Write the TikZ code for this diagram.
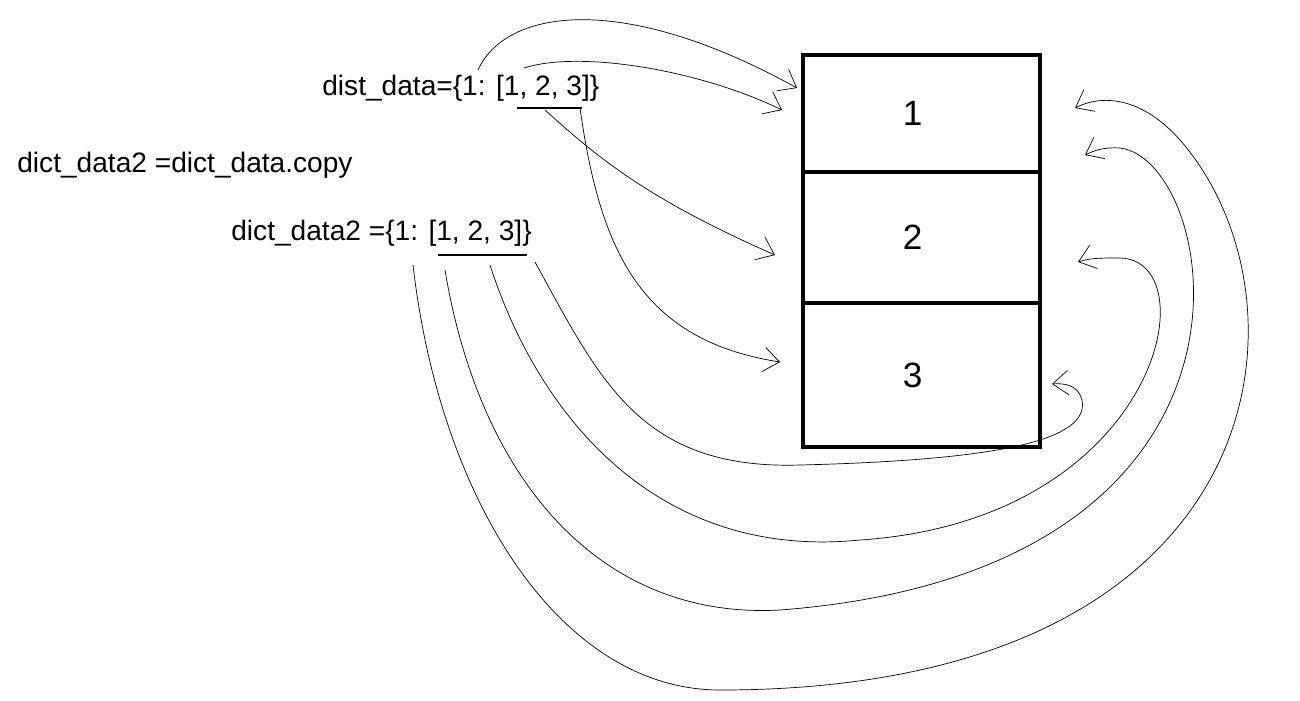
\documentclass[tikz,border=0pt]{standalone}
\usepackage{fontspec}
\setmainfont{Liberation Sans}
\usetikzlibrary{arrows.meta}
\begin{document}
\begin{tikzpicture}[x=0.02cm,y=-0.02cm]
\tikzset{cell/.style={rectangle, draw, line width=2.4pt, minimum width=4.74cm, minimum height=2.4cm, inner sep=0pt, font=\fontsize{20}{24}\selectfont},
 txt/.style={anchor=west, inner sep=0pt, font=\fontsize{16}{19}\selectfont},
 hand/.style={thin, -{Straight Barb[length=9pt,width=14pt]}}}
\useasboundingbox (0,0) rectangle (1300,700);

\node (c1) [cell, minimum height=2.34cm] at (921.5,113.5) {\hspace*{-0.35cm}1};
\node (c2) [cell, minimum height=2.62cm] at (921.5,237.5) {\hspace*{-0.35cm}2};
\node (c3) [cell, minimum height=2.88cm] at (921.5,375) {\hspace*{-0.35cm}3};

\node (d1) [txt] at (322,88) {dist\_data=\{1: [1, 2, 3]\}};
\node (cp) [txt] at (17,165) {dict\_data2 =dict\_data.copy};
\node (d2) [txt] at (231,233) {dict\_data2 =\{1: [1, 2, 3]\}};

\draw [thick] (517,108) coordinate (u1) -- (582,108) coordinate (u2);
\draw [thick] (438,255) coordinate (v1) -- (527,255) coordinate (v2);

% left side
\draw [hand] (478,70) .. controls (505,10) and (620,-10) .. (797,88);
\draw [hand] (524,68) .. controls (580,50) and (700,70) .. (782,110);
\draw [hand] (545,110) .. controls (600,160) and (650,200) .. (775,255);
\draw [hand] (580,108) .. controls (600,250) and (640,340) .. (780,362);

% right side
\draw [hand] (413,265) .. controls (440,500) and (560,690) .. (720,690)
  .. controls (1280,690) and (1320,300) .. (1180,140) .. controls (1140,95) and (1100,95) .. (1075,108);
\draw [hand] (445,270) .. controls (480,480) and (600,620) .. (780,610)
  .. controls (1300,570) and (1220,160) .. (1120,148) .. controls (1105,147) and (1095,150) .. (1085,155);
\draw [hand] (490,265) .. controls (540,420) and (660,560) .. (860,540)
  .. controls (1160,520) and (1210,260) .. (1120,258) .. controls (1100,258) and (1090,258) .. (1078,262);
\draw [hand] (535,262) .. controls (600,380) and (640,470) .. (800,465)
  .. controls (1000,460) and (1090,440) .. (1082,400) .. controls (1078,385) and (1065,383) .. (1052,384);
\end{tikzpicture}
\end{document}
